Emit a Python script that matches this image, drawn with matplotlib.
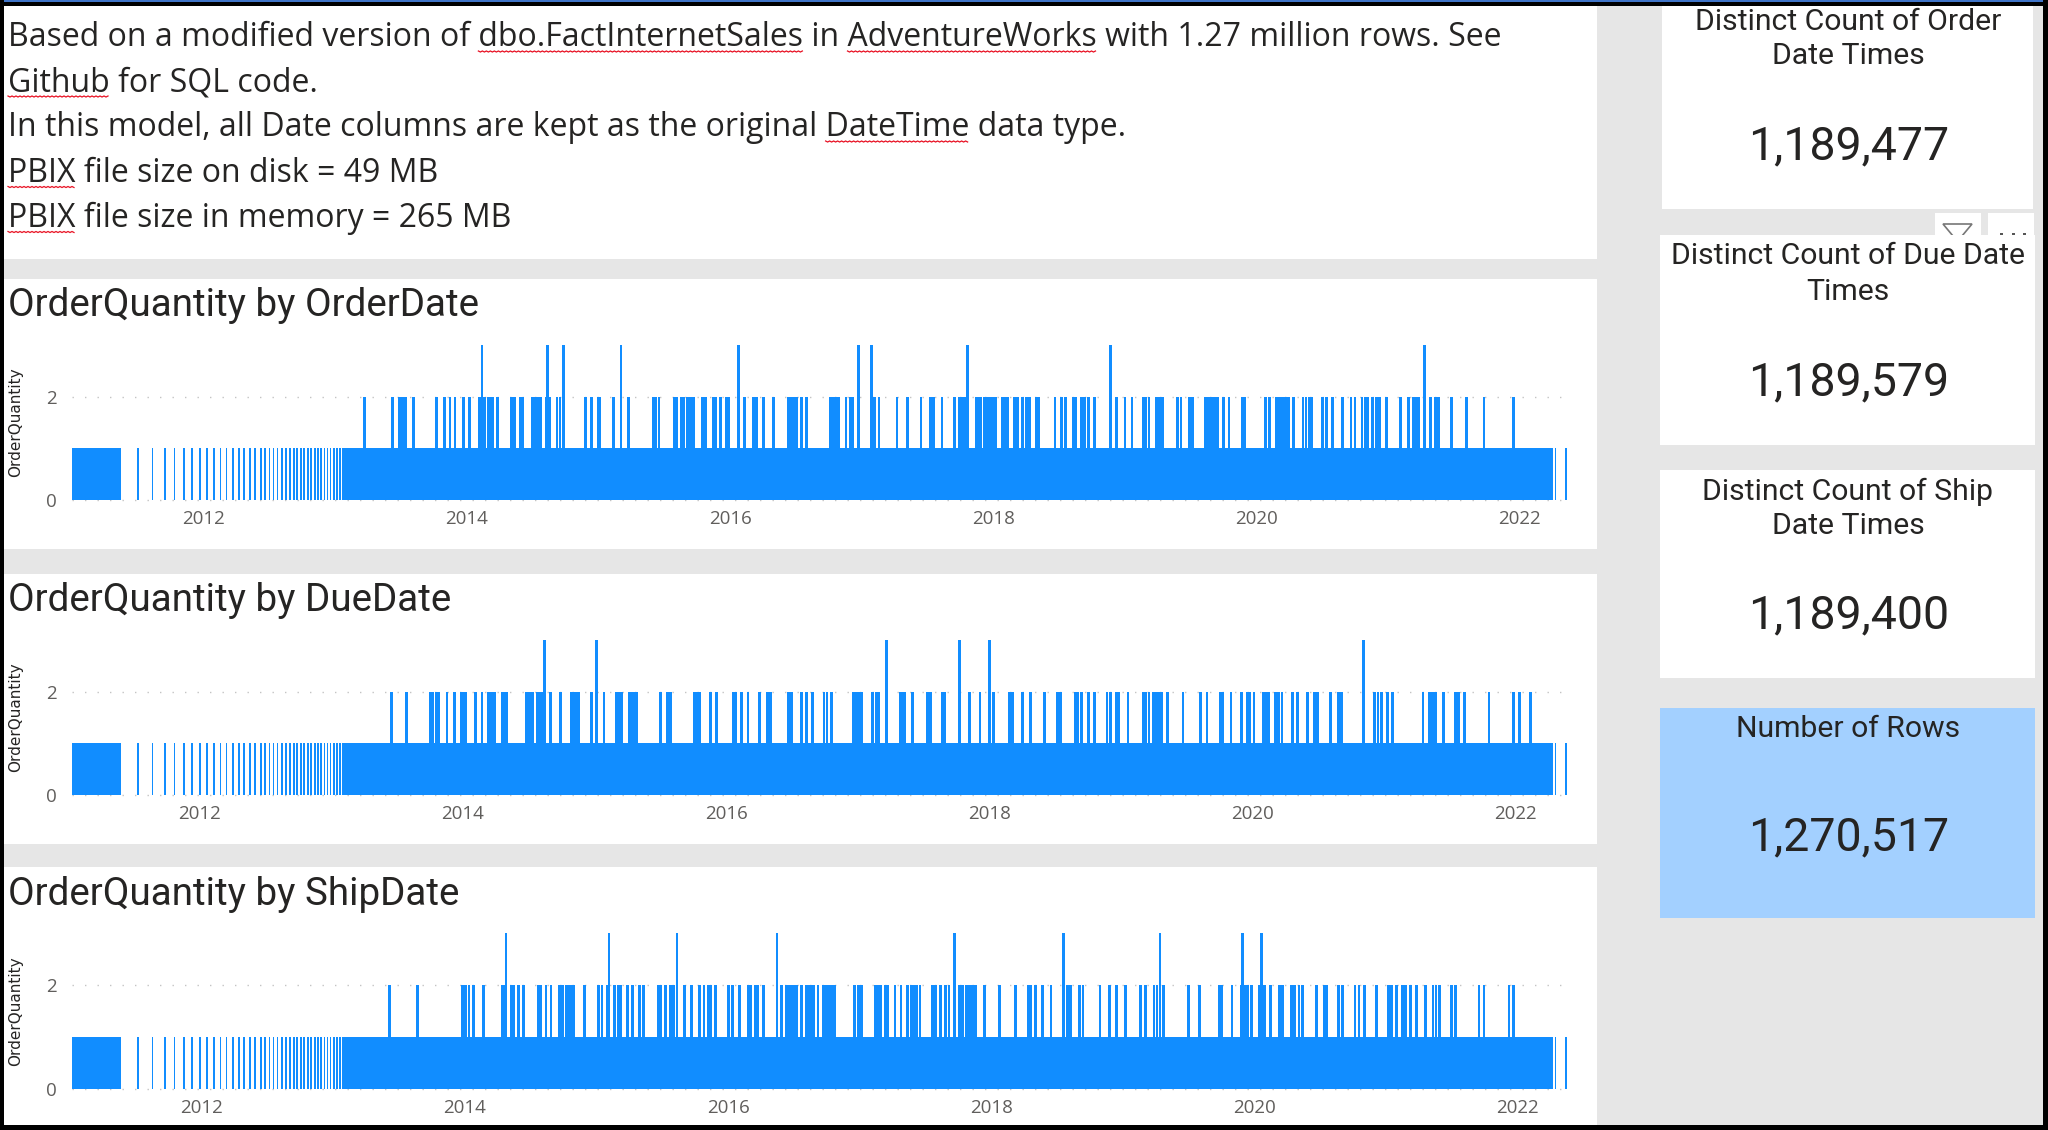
import numpy as np
import matplotlib
matplotlib.use("Agg")
import matplotlib.pyplot as plt
from matplotlib.patches import Rectangle, Polygon
from matplotlib.transforms import ScaledTranslation

# ---------- data (dates as decimal years, quantities are 1, 2, 3) ----------
solid_start = [2011.0, 2013.07]
solid_end = [2011.372, 2022.257]
single_dates = [2011.504, 2011.612, 2011.705, 2011.779, 2011.853, 2011.911, 2011.973, 2012.027, 2012.081,
                2012.128, 2012.174, 2012.221, 2012.267, 2012.306, 2012.353, 2012.391, 2012.434, 2012.469,
                2012.5, 2012.531, 2012.562, 2012.593, 2012.624, 2012.655, 2012.686, 2012.709, 2012.74,
                2012.764, 2012.795, 2012.818, 2012.849, 2012.872, 2012.895, 2012.919, 2012.942, 2012.965,
                2012.988, 2013.012, 2013.035, 2013.058, 2022.272, 2022.35]

order_q3 = [2014.116, 2014.616, 2014.736, 2015.171, 2016.062, 2016.974, 2017.075, 2017.803, 2018.889, 2021.28]
order_q2 = [2013.225, 2013.438, 2013.488, 2013.504, 2013.519, 2013.535, 2013.593, 2013.771, 2013.833, 2013.872,
            2013.911, 2013.973, 2014.019, 2014.097, 2014.136, 2014.167, 2014.182, 2014.198, 2014.233, 2014.341,
            2014.36, 2014.407, 2014.423, 2014.496, 2014.512, 2014.527, 2014.543, 2014.558, 2014.601, 2014.632,
            2014.686, 2014.709, 2014.903, 2014.95, 2014.996, 2015.012, 2015.116, 2015.229, 2015.419, 2015.434,
            2015.461, 2015.578, 2015.597, 2015.628, 2015.647, 2015.678, 2015.694, 2015.709, 2015.725, 2015.791,
            2015.814, 2015.872, 2015.891, 2015.926, 2015.969, 2015.988, 2016.112, 2016.178, 2016.202, 2016.256,
            2016.333, 2016.442, 2016.461, 2016.484, 2016.508, 2016.544, 2016.579, 2016.765, 2016.784, 2016.803,
            2016.823, 2016.881, 2016.912, 2016.931, 2017.098, 2017.133, 2017.268, 2017.35, 2017.451, 2017.524,
            2017.548, 2017.61, 2017.706, 2017.741, 2017.761, 2017.78, 2017.873, 2017.889, 2017.904, 2017.931,
            2017.951, 2017.974, 2017.997, 2018.02, 2018.071, 2018.09, 2018.11, 2018.16, 2018.183, 2018.222,
            2018.253, 2018.276, 2018.327, 2018.342, 2018.47, 2018.52, 2018.548, 2018.61, 2018.629, 2018.672,
            2018.695, 2018.722, 2018.772, 2018.939, 2019.001, 2019.055, 2019.141, 2019.16, 2019.183, 2019.238,
            2019.261, 2019.288, 2019.4, 2019.427, 2019.493, 2019.516, 2019.613, 2019.633, 2019.656, 2019.679,
            2019.703, 2019.749, 2019.792, 2019.892, 2019.912, 2020.067, 2020.098, 2020.148, 2020.168, 2020.187,
            2020.207, 2020.226, 2020.245, 2020.284, 2020.354, 2020.377, 2020.4, 2020.42, 2020.501, 2020.532,
            2020.578, 2020.656, 2020.718, 2020.749, 2020.803, 2020.827, 2020.846, 2020.881, 2020.912, 2020.935,
            2020.989, 2021.094, 2021.156, 2021.195, 2021.214, 2021.234, 2021.323, 2021.358, 2021.381, 2021.482,
            2021.598, 2021.73, 2021.955]

due_q3 = [2014.593, 2014.984, 2017.187, 2017.745, 2017.974, 2020.815]
due_q2 = [2013.426, 2013.543, 2013.721, 2013.74, 2013.767, 2013.783, 2013.849, 2013.907, 2013.957, 2013.973,
          2013.988, 2014.066, 2014.116, 2014.167, 2014.19, 2014.213, 2014.271, 2014.291, 2014.306, 2014.453,
          2014.469, 2014.484, 2014.5, 2014.535, 2014.558, 2014.578, 2014.636, 2014.713, 2014.795, 2014.814,
          2014.833, 2014.853, 2014.95, 2015.043, 2015.136, 2015.155, 2015.174, 2015.233, 2015.252, 2015.271,
          2015.291, 2015.469, 2015.523, 2015.547, 2015.733, 2015.752, 2015.771, 2015.853, 2015.899, 2016.027,
          2016.046, 2016.089, 2016.136, 2016.225, 2016.287, 2016.306, 2016.442, 2016.465, 2016.544, 2016.579,
          2016.629, 2016.714, 2016.737, 2016.772, 2016.939, 2016.958, 2016.978, 2016.997, 2017.082, 2017.113,
          2017.133, 2017.292, 2017.307, 2017.327, 2017.385, 2017.501, 2017.524, 2017.61, 2017.629, 2017.819,
          2017.9, 2018.005, 2018.121, 2018.144, 2018.222, 2018.284, 2018.392, 2018.489, 2018.509, 2018.625,
          2018.644, 2018.672, 2018.726, 2018.772, 2018.865, 2018.889, 2018.935, 2018.954, 2019.024, 2019.141,
          2019.16, 2019.183, 2019.214, 2019.234, 2019.257, 2019.276, 2019.323, 2019.443, 2019.575, 2019.625,
          2019.726, 2019.745, 2019.807, 2019.885, 2019.931, 2019.95, 2019.981, 2020.051, 2020.075, 2020.094,
          2020.144, 2020.168, 2020.195, 2020.272, 2020.311, 2020.389, 2020.439, 2020.462, 2020.563, 2020.625,
          2020.644, 2020.9, 2020.923, 2020.95, 2020.997, 2021.036, 2021.265, 2021.315, 2021.338, 2021.358,
          2021.424, 2021.513, 2021.536, 2021.582, 2021.768, 2021.954, 2021.997, 2022.082]

ship_q3 = [2014.298, 2015.081, 2015.597, 2016.357, 2017.703, 2018.532, 2019.268, 2019.892, 2020.04]
ship_q2 = [2013.415, 2013.628, 2013.969, 2013.988, 2014.016, 2014.05, 2014.124, 2014.271, 2014.291, 2014.341,
           2014.357, 2014.391, 2014.43, 2014.543, 2014.562, 2014.601, 2014.64, 2014.705, 2014.725, 2014.756,
           2014.771, 2014.795, 2014.814, 2014.895, 2015.0, 2015.027, 2015.066, 2015.124, 2015.151, 2015.171,
           2015.221, 2015.26, 2015.31, 2015.345, 2015.453, 2015.469, 2015.512, 2015.55, 2015.57, 2015.655,
           2015.705, 2015.771, 2015.802, 2015.833, 2015.849, 2015.888, 2015.988, 2016.019, 2016.07, 2016.14,
           2016.155, 2016.194, 2016.213, 2016.256, 2016.391, 2016.426, 2016.446, 2016.465, 2016.484, 2016.508,
           2016.544, 2016.579, 2016.594, 2016.617, 2016.637, 2016.668, 2016.706, 2016.726, 2016.749, 2016.772,
           2016.796, 2016.947, 2016.978, 2016.997, 2017.106, 2017.125, 2017.144, 2017.183, 2017.199, 2017.253,
           2017.3, 2017.346, 2017.381, 2017.4, 2017.416, 2017.443, 2017.54, 2017.559, 2017.598, 2017.637,
           2017.664, 2017.741, 2017.765, 2017.796, 2017.819, 2017.842, 2017.865, 2017.935, 2018.048, 2018.172,
           2018.265, 2018.284, 2018.323, 2018.377, 2018.439, 2018.563, 2018.586, 2018.656, 2018.683, 2018.811,
           2018.881, 2018.935, 2019.005, 2019.121, 2019.16, 2019.222, 2019.245, 2019.292, 2019.486, 2019.567,
           2019.722, 2019.737, 2019.815, 2019.885, 2019.912, 2019.935, 2019.962, 2020.02, 2020.059, 2020.106,
           2020.176, 2020.199, 2020.265, 2020.292, 2020.323, 2020.35, 2020.455, 2020.517, 2020.532, 2020.625,
           2020.656, 2020.749, 2020.78, 2020.819, 2020.912, 2021.001, 2021.028, 2021.067, 2021.11, 2021.13,
           2021.168, 2021.214, 2021.284, 2021.342, 2021.365, 2021.393, 2021.482, 2021.513, 2021.691, 2021.73,
           2021.92, 2021.954]

year_ticks = [2012, 2014, 2016, 2018, 2020, 2022]
qty_ticks = [0, 2]

body_lines = [
    "Based on a modified version of dbo.FactInternetSales in AdventureWorks with 1.27 million rows. See",
    "Github for SQL code.",
    "In this model, all Date columns are kept as the original DateTime data type.",
    "PBIX file size on disk = 49 MB",
    "PBIX file size in memory = 265 MB",
]
misspelled = ["dbo.FactInternetSales", "AdventureWorks", "Github", "DateTime", "PBIX"]

panel_titles = ["OrderQuantity by OrderDate", "OrderQuantity by DueDate", "OrderQuantity by ShipDate"]
card_titles = ["Distinct Count of Order\nDate Times", "Distinct Count of Due Date\nTimes",
               "Distinct Count of Ship\nDate Times", "Number of Rows"]
card_values = [1189477, 1189579, 1189400, 1270517]

# ---------- style ----------
BAR = "#118DFF"
BG = "#E6E6E6"
INK = "#252423"
GREY = "#605E5C"
TITLE_FONT = "Roboto"
BODY_FONT = "Open Sans"

W, H = 2048, 1130
fig = plt.figure(figsize=(W / 100, H / 100), dpi=100, facecolor=BG)
bg = fig.add_axes([0, 0, 1, 1])
bg.set_xlim(0, W)
bg.set_ylim(H, 0)
bg.axis("off")


def box(x0, y0, x1, y1, color, z=1):
    bg.add_patch(Rectangle((x0, y0), x1 - x0, y1 - y0, facecolor=color, edgecolor="none", zorder=z))


# white panels
box(4, 5, 1597, 259, "white")
box(4, 279, 1597, 549, "white")
box(4, 574, 1597, 844, "white")
box(4, 867, 1597, 1125, "white")

# cards
box(1662, 5, 2033, 209, "white", 3)
box(1935, 213, 1981, 240, "white", 1)
box(1988, 213, 2034, 240, "white", 1)
box(1660, 235, 2035, 445, "white", 3)
box(1660, 470, 2035, 678, "white", 3)
box(1660, 708, 2035, 918, "#A3D0FF", 3)

# visual-header icons peeking out behind the second card
bg.add_patch(Polygon([(1943, 224), (1972, 224), (1962, 236), (1953, 236)], closed=True, facecolor="none",
                     edgecolor="#777777", lw=1.2, zorder=2))
for dx in (2000, 2012, 2023):
    bg.add_patch(Rectangle((dx, 233), 2.5, 2, facecolor="#555555", edgecolor="none", zorder=2))

# frame
box(0, 2, W, 5.5, "black", 10)
box(0, 0, W, 2, "#3F74C8", 10)
box(0, 0, 4, H, "black", 10)
box(W - 5, 0, W, H, "black", 10)
box(0, 1125, W, H, "black", 10)

# body text with spell-check squiggles
BODY_SIZE = 23
renderer = fig.canvas.get_renderer()


def text_w(s):
    t = bg.text(0, 0, s + "x", fontsize=BODY_SIZE, family=BODY_FONT)
    w1 = t.get_window_extent(renderer).width
    t.set_text("x")
    w2 = t.get_window_extent(renderer).width
    t.remove()
    return w1 - w2


baselines = [46.5, 91.5, 136.5, 182, 227]
for line, yb in zip(body_lines, baselines):
    bg.text(8, yb, line, fontsize=BODY_SIZE, family=BODY_FONT, color=INK, va="baseline", ha="left", zorder=4)
    for word in misspelled:
        i = line.find(word)
        if i < 0:
            continue
        x0 = 8 + text_w(line[:i])
        x1 = x0 + text_w(word)
        xs = np.arange(x0, x1, 2.0)
        ys = yb + 4.5 + 1.0 * (np.arange(len(xs)) % 2)
        bg.plot(xs, ys, color="#E81123", lw=0.9, zorder=4, solid_joinstyle="miter")

# cards text
card_title_y = [(22, 56), (256, 292), (492, 526), (729,)]
card_value_y = [146.5, 382, 615.5, 837.5]
for title, ys, value, vy in zip(card_titles, card_title_y, card_values, card_value_y):
    for part, y in zip(title.split("\n"), ys):
        bg.text(1848, y, part, ha="center", va="center", fontsize=21.7, family=TITLE_FONT, color=INK, zorder=5)
    bg.text(1849, vy, f"{value:,}", ha="center", va="center", fontsize=33.5, family=TITLE_FONT, color=INK, zorder=5)

# chart panels
panels = [
    (order_q2, order_q3, 345, 500, 305.5, 0),
    (due_q2, due_q3, 639.7, 795.3, 600.5, -4),
    (ship_q2, ship_q3, 933, 1089, 894.5, -2),
]
BAR_W = 0.021
THIN_W = 0.0135
for (q2, q3, top, bottom, title_y, label_shift), title in zip(panels, panel_titles):
    bg.text(8, title_y, title, fontsize=27.8, family=TITLE_FONT, color=INK, ha="left", va="center", zorder=4)
    ax = fig.add_axes([72 / W, 1 - bottom / H, (1567 - 72) / W, (bottom - top) / H])
    ax.patch.set_alpha(0)
    ax.set_xlim(2011.0, 2022.36)
    ax.set_ylim(0, 3)
    for s in ax.spines.values():
        s.set_visible(False)
    ax.set_axisbelow(True)
    ax.set_yticks(qty_ticks)
    ax.set_xticks(year_ticks)
    ax.set_xticklabels([str(y) for y in year_ticks])
    ax.grid(axis="y", color="#C4C4C4", lw=1.0, ls=(0, (1, 8)))
    ax.grid(axis="x", visible=False)
    for gl in ax.get_ygridlines():
        gl.set_clip_on(False)
    ax.tick_params(length=0, labelsize=13.5, labelcolor=GREY)
    ax.tick_params(axis="x", pad=7)
    ax.tick_params(axis="y", pad=11)
    for lab in ax.get_xticklabels() + ax.get_yticklabels():
        lab.set_family(BODY_FONT)
    shift = ScaledTranslation(label_shift / 100, 0, fig.dpi_scale_trans)
    for lab in ax.get_xticklabels():
        lab.set_transform(lab.get_transform() + shift)
    ax.set_ylabel("OrderQuantity", fontsize=11, color=INK, family="DejaVu Sans")
    ax.yaxis.set_label_coords(-49 / 1495, 0.5)

    starts = np.array(solid_start)
    ends = np.array(solid_end)
    ax.bar(starts, [1] * len(starts), width=ends - starts, align="edge", color=BAR, lw=0, zorder=2)
    ax.bar(single_dates, [1] * len(single_dates), width=THIN_W, color=BAR, lw=0, zorder=2)
    ax.bar(q2, [2] * len(q2), width=BAR_W, color=BAR, lw=0, zorder=2)
    ax.bar(q3, [3] * len(q3), width=BAR_W, color=BAR, lw=0, zorder=2)

fig.savefig("out.png", dpi=100, facecolor=BG)
